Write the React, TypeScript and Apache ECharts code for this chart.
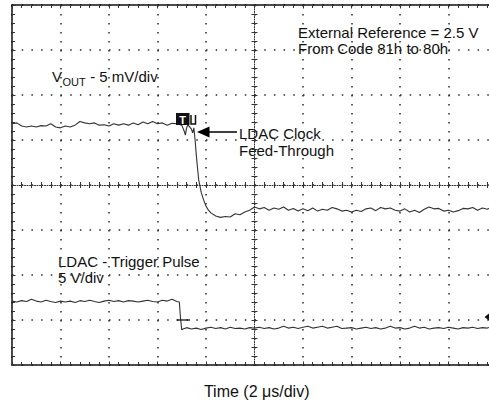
import React, { useEffect, useRef } from "react";
import * as echarts from "echarts";

// Time axis in microseconds (2 us/div), vertical axis in screen divisions.
const timeMinUs = -10;
const timeMaxUs = 10;
const timeStepUs = 2;
const divMin = -4;
const divMax = 4;

// VOUT channel (5 mV/div), [time us, divisions]
const voutTrace: [number, number][] = [
  [-10.0, 1.36], [-9.8, 1.38], [-9.6, 1.31], [-9.4, 1.29], [-9.2, 1.31], [-9.0, 1.29],
  [-8.8, 1.32], [-8.6, 1.31], [-8.4, 1.36], [-8.2, 1.29], [-8.0, 1.27], [-7.8, 1.31],
  [-7.6, 1.29], [-7.4, 1.33], [-7.2, 1.41], [-7.0, 1.38], [-6.8, 1.36], [-6.6, 1.38],
  [-6.4, 1.33], [-6.2, 1.34], [-6.0, 1.31], [-5.8, 1.36], [-5.6, 1.33], [-5.4, 1.36],
  [-5.2, 1.33], [-5.0, 1.38], [-4.8, 1.34], [-4.6, 1.4], [-4.4, 1.36], [-4.2, 1.41],
  [-4.0, 1.36], [-3.8, 1.38], [-3.6, 1.33], [-3.4, 1.37], [-3.2, 1.36], [-3.0, 1.33],
  [-2.9, 1.2], [-2.85, 1.11], [-2.8, 1.27], [-2.75, 1.33], [-2.7, 1.31], [-2.6, 1.24],
  [-2.55, 1.16], [-2.5, 1.27], [-2.45, 1.0], [-2.4, 0.67], [-2.35, 0.38], [-2.3, 0.11],
  [-2.25, -0.02], [-2.2, -0.16], [-2.1, -0.33], [-2.0, -0.47], [-1.9, -0.56], [-1.8, -0.62],
  [-1.6, -0.69], [-1.4, -0.72], [-1.2, -0.7], [-1.0, -0.71], [-0.8, -0.64], [-0.6, -0.66],
  [-0.4, -0.6], [-0.2, -0.56], [0.0, -0.49], [0.2, -0.53], [0.4, -0.5], [0.6, -0.56],
  [0.8, -0.51], [1.0, -0.54], [1.2, -0.49], [1.4, -0.56], [1.6, -0.52], [1.8, -0.58],
  [2.0, -0.53], [2.2, -0.57], [2.4, -0.51], [2.6, -0.58], [2.8, -0.54], [3.0, -0.56],
  [3.2, -0.5], [3.4, -0.53], [3.6, -0.58], [3.8, -0.56], [4.0, -0.6], [4.2, -0.56],
  [4.4, -0.59], [4.6, -0.53], [4.8, -0.51], [5.0, -0.57], [5.2, -0.5], [5.4, -0.53],
  [5.6, -0.51], [5.8, -0.56], [6.0, -0.58], [6.2, -0.53], [6.4, -0.6], [6.6, -0.56],
  [6.8, -0.61], [7.0, -0.54], [7.2, -0.49], [7.4, -0.53], [7.6, -0.52], [7.8, -0.58],
  [8.0, -0.56], [8.2, -0.6], [8.4, -0.57], [8.6, -0.52], [8.8, -0.53], [9.0, -0.5],
  [9.2, -0.56], [9.4, -0.51], [9.6, -0.54], [9.7, -0.51],
];

// LDAC trigger channel (5 V/div), [time us, divisions]
const triggerTrace: [number, number][] = [
  [-10.0, -2.58], [-9.8, -2.6], [-9.6, -2.57], [-9.4, -2.59], [-9.2, -2.54], [-9.0, -2.58],
  [-8.8, -2.6], [-8.6, -2.56], [-8.4, -2.59], [-8.2, -2.61], [-8.0, -2.58], [-7.8, -2.6],
  [-7.6, -2.58], [-7.4, -2.61], [-7.2, -2.57], [-7.0, -2.59], [-6.8, -2.56], [-6.6, -2.59],
  [-6.4, -2.61], [-6.2, -2.58], [-6.0, -2.56], [-5.8, -2.59], [-5.6, -2.57], [-5.4, -2.6],
  [-5.2, -2.57], [-5.0, -2.58], [-4.8, -2.6], [-4.6, -2.58], [-4.4, -2.56], [-4.2, -2.59],
  [-4.0, -2.6], [-3.8, -2.56], [-3.6, -2.58], [-3.4, -2.54], [-3.2, -2.59], [-3.1, -2.6],
  [-3.05, -2.96], [-3.0, -3.22], [-2.95, -3.2], [-2.8, -3.17], [-2.6, -3.2], [-2.4, -3.18],
  [-2.2, -3.21], [-2.0, -3.18], [-1.8, -3.16], [-1.6, -3.19], [-1.4, -3.17], [-1.2, -3.2],
  [-1.0, -3.16], [-0.8, -3.19], [-0.6, -3.18], [-0.4, -3.2], [-0.2, -3.17], [0.0, -3.18],
  [0.2, -3.16], [0.4, -3.19], [0.6, -3.17], [0.8, -3.2], [1.0, -3.18], [1.2, -3.14],
  [1.4, -3.18], [1.6, -3.16], [1.8, -3.19], [2.0, -3.16], [2.2, -3.14], [2.4, -3.18],
  [2.6, -3.16], [2.8, -3.14], [3.0, -3.18], [3.2, -3.16], [3.4, -3.14], [3.6, -3.19],
  [3.8, -3.18], [4.0, -3.17], [4.2, -3.2], [4.4, -3.18], [4.6, -3.16], [4.8, -3.19],
  [5.0, -3.17], [5.2, -3.2], [5.4, -3.18], [5.6, -3.14], [5.8, -3.18], [6.0, -3.17],
  [6.2, -3.2], [6.4, -3.18], [6.6, -3.14], [6.8, -3.18], [7.0, -3.16], [7.2, -3.2],
  [7.4, -3.18], [7.6, -3.17], [7.8, -3.19], [8.0, -3.16], [8.2, -3.18], [8.4, -3.2],
  [8.6, -3.17], [8.8, -3.18], [9.0, -3.16], [9.2, -3.19], [9.4, -3.17], [9.6, -3.18],
  [9.7, -3.16],
];

const FONT = '"Liberation Sans", Arial, Helvetica, sans-serif';
const INK = "#111";
const TRACE = "#333";
const DOT = "#2a2a2a";

function txt(text: string, x: number, y: number, size = 15, align = "left") {
  return {
    type: "text",
    x,
    y,
    silent: true,
    style: {
      text,
      font: `${size}px ${FONT}`,
      fill: INK,
      align,
      verticalAlign: "middle",
    },
  };
}

export default function App() {
  const ref = useRef<HTMLDivElement>(null);

  useEffect(() => {
    if (!ref.current) return;
    const chart = echarts.init(ref.current, null, { renderer: "svg" });

    const xBase = {
      type: "value",
      min: timeMinUs,
      max: timeMaxUs,
      interval: timeStepUs,
      axisLabel: { show: false },
      splitLine: { show: false },
    };
    const yBase = {
      type: "value",
      min: divMin,
      max: divMax,
      interval: 1,
      axisLabel: { show: false },
      splitLine: { show: false },
    };
    const borderLine = { color: INK, width: 1.5 };
    const tickStyle = { color: "#333", width: 1 };

    const option: any = {
      animation: false,
      backgroundColor: "#fff",
      grid: {
        left: 12,
        top: 5,
        width: 485,
        height: 360,
        containLabel: false,
        outerBoundsMode: "none",
      },
      xAxis: [
        {
          ...xBase,
          position: "bottom",
          axisLine: { show: true, onZero: false, lineStyle: borderLine },
          axisTick: { show: true, inside: true, length: 3.5, lineStyle: tickStyle },
          minorTick: { show: true, splitNumber: 5, length: 3, lineStyle: tickStyle },
          splitLine: { show: true, lineStyle: { color: DOT, width: 1.5, type: [1.5, 7.5] } },
        },
        {
          ...xBase,
          position: "top",
          axisLine: { show: true, onZero: false, lineStyle: borderLine },
          axisTick: { show: true, inside: true, length: 3.5, lineStyle: tickStyle },
          minorTick: { show: true, splitNumber: 5, length: 3, lineStyle: tickStyle },
        },
        {
          ...xBase,
          position: "bottom",
          axisLine: { show: true, onZero: true, onZeroAxisIndex: 0, lineStyle: { color: DOT, width: 1, type: [1, 1.5] } },
          axisTick: { show: true, inside: true, length: 3, lineStyle: tickStyle },
          minorTick: { show: true, splitNumber: 5, length: 3, lineStyle: tickStyle },
        },
        {
          ...xBase,
          position: "bottom",
          axisLine: { show: false, onZero: true, onZeroAxisIndex: 0 },
          axisTick: { show: true, inside: false, length: 3, lineStyle: tickStyle },
          minorTick: { show: true, splitNumber: 5, length: 3, lineStyle: tickStyle },
        },
      ],
      yAxis: [
        {
          ...yBase,
          position: "left",
          axisLine: { show: true, onZero: false, lineStyle: borderLine },
          axisTick: { show: true, inside: true, length: 3.5, lineStyle: tickStyle },
          minorTick: { show: true, splitNumber: 5, length: 3, lineStyle: tickStyle },
          splitLine: { show: true, lineStyle: { color: DOT, width: 1.5, type: [1.5, 8.2] } },
        },
        {
          ...yBase,
          position: "left",
          axisLine: { show: true, onZero: true, onZeroAxisIndex: 0, lineStyle: { color: DOT, width: 1, type: [1, 1.5] } },
          axisTick: { show: true, inside: true, length: 3, lineStyle: tickStyle },
          minorTick: { show: true, splitNumber: 5, length: 3, lineStyle: tickStyle },
        },
        {
          ...yBase,
          position: "left",
          axisLine: { show: false, onZero: true, onZeroAxisIndex: 0 },
          axisTick: { show: true, inside: false, length: 3, lineStyle: tickStyle },
          minorTick: { show: true, splitNumber: 5, length: 3, lineStyle: tickStyle },
        },
      ],
      series: [
        {
          name: "VOUT",
          type: "line",
          xAxisIndex: 0,
          yAxisIndex: 0,
          data: voutTrace,
          symbol: "none",
          silent: true,
          z: 5,
          lineStyle: { color: TRACE, width: 1.1 },
        },
        {
          name: "LDAC",
          type: "line",
          xAxisIndex: 0,
          yAxisIndex: 0,
          data: triggerTrace,
          symbol: "none",
          silent: true,
          z: 5,
          lineStyle: { color: TRACE, width: 1.1 },
        },
      ],
      graphic: [
        txt("External Reference = 2.5 V", 298, 32),
        txt("From Code 81h to 80h", 298, 48),
        txt("V", 52, 76.5),
        txt("OUT", 62.5, 82.2, 11),
        txt(" - 5 mV/div", 86, 76.5),
        txt("LDAC Clock", 239, 133),
        txt("Feed-Through", 239, 150.5),
        txt("LDAC - Trigger Pulse", 58, 261),
        txt("5 V/div", 58, 277.7),
        txt("Time (2 \u03bcs/div)", 256.7, 391.7, 16, "center"),
        // LDAC clock feed-through arrow
        {
          type: "polygon",
          silent: true,
          shape: { points: [[197, 132], [209.5, 126.5], [209.5, 137.5]] },
          style: { fill: "#000" },
          z: 10,
        },
        {
          type: "line",
          silent: true,
          shape: { x1: 209, y1: 132, x2: 237, y2: 132 },
          style: { stroke: "#000", lineWidth: 1.5 },
          z: 10,
        },
        // trigger position marker
        {
          type: "rect",
          silent: true,
          shape: { x: 176, y: 113, width: 13.5, height: 12 },
          style: { fill: "#111" },
          z: 10,
        },
        {
          type: "text",
          silent: true,
          x: 182.5,
          y: 119.5,
          z: 11,
          style: { text: "T", font: `bold 11px ${FONT}`, fill: "#fff", align: "center", verticalAlign: "middle" },
        },
        {
          type: "polyline",
          silent: true,
          shape: { points: [[191, 115], [191, 124], [195.5, 124], [195.5, 115]] },
          style: { stroke: "#111", lineWidth: 1.5, fill: "none" },
          z: 10,
        },
        // trigger level marker
        {
          type: "line",
          silent: true,
          shape: { x1: 176.5, y1: 320, x2: 190, y2: 320 },
          style: { stroke: "#111", lineWidth: 1.3 },
          z: 10,
        },
        // channel reference marker at right edge
        {
          type: "polygon",
          silent: true,
          shape: { points: [[484.5, 317], [489, 313.5], [489, 320.5]] },
          style: { fill: "#111" },
          z: 10,
        },
      ],
    };

    chart.setOption(option);
    return () => chart.dispose();
  }, []);

  return (
    <div
      ref={ref}
      style={{ position: "fixed", left: 0, top: 0, width: 489, height: 402, background: "#fff" }}
    />
  );
}
